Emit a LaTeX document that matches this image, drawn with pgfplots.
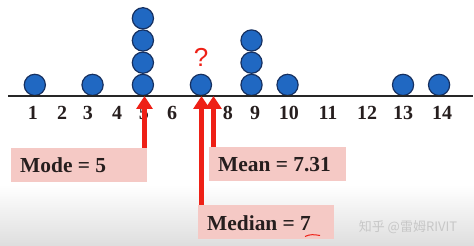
\documentclass[border=0pt]{standalone}
\usepackage{pgfplots}
\pgfplotsset{compat=1.18}
\usepackage{pgfplotstable}
\usetikzlibrary{arrows.meta}
\usepackage{fontspec}
\setmainfont{Liberation Serif}
\newfontfamily\cjk{Noto Sans CJK SC}
\newfontfamily\hand{Liberation Sans}
\definecolor{dotblue}{RGB}{32,104,194}
\definecolor{dotedge}{RGB}{22,48,96}
\definecolor{arrowred}{RGB}{238,32,22}
\definecolor{boxpink}{RGB}{245,201,197}
\definecolor{txt}{RGB}{38,30,30}

% value = data value, pos = horizontal position on the drawn (unevenly spaced) scale, level = place in the stack
\pgfplotstableread{
value pos level
1  1.03  1
3  3.13  1
5  4.96  1
5  4.96  2
5  4.96  3
5  4.96  4
7  7.07  1
9  8.91  1
9  8.91  2
9  8.91  3
10 10.22 1
13 14.42 1
14 15.73 1
}\dotdata

\begin{document}
\begin{tikzpicture}
\begin{axis}[
  scale only axis, width=474pt, height=246pt,
  xmin=-0.236, xmax=17.0,
  ymin=-6.757, ymax=4.324,
  axis x line=middle, axis y line=none,
  x axis line style={-, draw=none},
  ytick=\empty,
  xtick={0.96,2.02,2.96,4.02,5.0,6.02,7.05,8.05,9.04,10.27,11.69,13.11,14.42,15.84},
  xticklabels={1,2,3,4,5,6,,8,9,10,11,12,13,14},
  major tick length=0pt,
  xticklabel style={anchor=center, inner sep=0pt, yshift=-17pt,
    font=\fontsize{20}{20}\selectfont\bfseries, text=txt},
  clip=false,
]
\path (rel axis cs:0,0) rectangle (rel axis cs:1,1);
\coordinate (TL) at (rel axis cs:0,1);
\addplot[only marks, mark=*, mark size=10.6pt,
  mark options={fill=dotblue, draw=dotedge, line width=1.2pt}]
  table[x=pos, y expr=\thisrow{level}-0.5] {\dotdata};
\end{axis}

\begin{scope}[shift={(TL)}, x=1pt, y=-1pt]
  % background gradient at the bottom
  \shade[top color=white, bottom color=black!13, draw=none] (0,185) rectangle (474,246);
  % axis line
  \draw[line width=1.5pt, black!85] (8,96) -- (473,96);
  % boxes
  \fill[boxpink] (11,148) rectangle (147,182);
  \fill[boxpink] (209,147) rectangle (346,181);
  \fill[boxpink] (198,205) rectangle (334,239);
  \begin{scope}[every node/.style={anchor=base west, inner sep=0pt,
      font=\fontsize{21.4}{21.4}\selectfont\bfseries, text=txt}]
    \node at (20,172.5) {Mode = 5};
    \node at (218,171.5) {Mean = 7.31};
    \node at (207,230.5) {Median = 7};
  \end{scope}
  % arrows
  \begin{scope}[arrowred, line width=5pt, -{Triangle[width=16pt,length=13pt]}]
    \draw (144.5,148) -- (144.5,96);
    \draw (201.5,205) -- (201.5,96);
    \draw (213.5,147) -- (213.5,96);
  \end{scope}
  % handwritten marks
  \node[text=arrowred, font=\hand\fontsize{26}{26}\selectfont] at (201,57) {?};
  \draw[arrowred, line width=1pt] (305,236.5) .. controls (310,234) and (314,234.5) .. (320,235.5);
  % watermark
  \node[text=black!22, font=\cjk\fontsize{13}{13}\selectfont] at (408,227) {知乎 @雷姆RIVIT};
\end{scope}

\pgfresetboundingbox
\begin{scope}[shift={(TL)}, x=1pt, y=-1pt]
  \path[use as bounding box] (0,0) rectangle (474,246);
\end{scope}
\end{tikzpicture}
\end{document}
